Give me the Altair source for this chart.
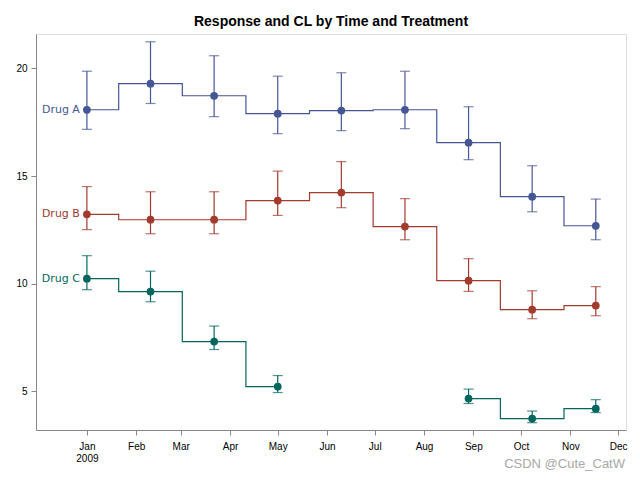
import altair as alt
import pandas as pd

dates = ["2009-01-01", "2009-02-10", "2009-03-22", "2009-05-01", "2009-06-10",
         "2009-07-20", "2009-08-29", "2009-10-08", "2009-11-17"]

drugs = ["Drug A", "Drug B", "Drug C"]
colors = ["#445694", "#A23A2E", "#01665E"]

resp_a = [18.08, 19.29, 18.73, 17.90, 18.04, 18.08, 16.55, 14.04, 12.69]
low_a = [17.17, 18.37, 17.76, 16.97, 17.11, 17.20, 15.76, 13.34, 12.04]
up_a = [19.87, 21.24, 20.59, 19.64, 19.80, 19.87, 18.22, 15.48, 13.93]

resp_b = [13.22, 12.97, 12.97, 13.86, 14.23, 12.65, 10.14, 8.79, 8.98]
low_b = [12.51, 12.32, 12.32, 13.17, 13.53, 12.04, 9.64, 8.37, 8.51]
up_b = [14.51, 14.27, 14.27, 15.23, 15.67, 13.95, 11.16, 9.67, 9.86]

resp_c = [10.23, 9.63, 7.31, 5.22, None, None, 4.66, 3.73, 4.19]
low_c = [9.72, 9.16, 6.94, 4.94, None, None, 4.43, 3.54, 4.01]
up_c = [11.30, 10.58, 8.03, 5.73, None, None, 5.10, 4.08, 4.61]

rows = []
for drug, r, lo, up in [("Drug A", resp_a, low_a, up_a),
                        ("Drug B", resp_b, low_b, up_b),
                        ("Drug C", resp_c, low_c, up_c)]:
    seg = 0
    prev_missing = False
    for i, d in enumerate(dates):
        if r[i] is None:
            prev_missing = True
            continue
        if prev_missing:
            seg += 1
            prev_missing = False
        rows.append({"Drug": drug, "Date": d, "Response": r[i], "Lower": lo[i],
                     "Upper": up[i], "Seg": f"{drug}-{seg}", "First": i == 0})
df = pd.DataFrame(rows)

font = "DejaVu Sans"

xscale = alt.Scale(type="utc",
                   domain=[alt.DateTime(year=2008, month=11, date=30, utc=True),
                           alt.DateTime(year=2009, month=12, date=6, utc=True)])
xaxis = alt.Axis(
    values=[alt.DateTime(year=2009, month=m, date=1, utc=True) for m in range(1, 13)],
    labelExpr="utcFormat(datum.value, '%b') == 'Jan' ? ['Jan', '2009'] : utcFormat(datum.value, '%b')",
    title=None, grid=False, tickSize=5, labelPadding=6, labelLineHeight=12,
)
yscale = alt.Scale(domain=[3.2, 21.6], nice=False, zero=False)
yaxis = alt.Axis(values=[5, 10, 15, 20], title=None, grid=False, tickSize=5, labelPadding=4)
color = alt.Color("Drug:N", scale=alt.Scale(domain=drugs, range=colors), legend=None)

base = alt.Chart(df).encode(
    x=alt.X("Date:T", scale=xscale, axis=xaxis),
    color=color,
)

line = base.mark_line(interpolate="step", strokeWidth=1.2).encode(
    y=alt.Y("Response:Q", scale=yscale, axis=yaxis), detail="Seg:N")
bars = base.mark_rule(strokeWidth=1.2).encode(y="Lower:Q", y2="Upper:Q")
cap_lo = base.mark_tick(orient="horizontal", size=10, thickness=1.2).encode(y="Lower:Q")
cap_up = base.mark_tick(orient="horizontal", size=10, thickness=1.2).encode(y="Upper:Q")
pts = base.mark_circle(size=60, opacity=1).encode(y="Response:Q")
labels = base.mark_text(align="right", baseline="middle", dx=-7, fontSize=11, font=font).encode(
    y="Response:Q", text="Drug:N").transform_filter("datum.First")

wm = alt.Chart(pd.DataFrame({"t": ["CSDN @Cute_CatW"]})).mark_text(
    align="right", baseline="middle", fontSize=13, font="Liberation Sans", color="#a8a8a8"
).encode(x=alt.value(589), y=alt.value(430), text="t:N")

chart = alt.layer(line, bars, cap_lo, cap_up, pts, labels, wm).properties(
    width=590, height=396,
    title=alt.TitleParams("Response and CL by Time and Treatment", font="Liberation Sans",
                          fontSize=14, fontWeight="bold", anchor="middle", offset=5),
    autosize=alt.AutoSizeParams(type="none"),
    padding={"left": 28, "top": 26, "right": 6, "bottom": 42},
).configure_view(stroke="#999999", strokeWidth=1).configure_axis(
    domainColor="#999999", tickColor="#999999", labelColor="#222222",
    labelFont=font, labelFontSize=11,
).configure(background="white")

chart.save("out.html", embed_options={"renderer": "svg", "actions": False})
